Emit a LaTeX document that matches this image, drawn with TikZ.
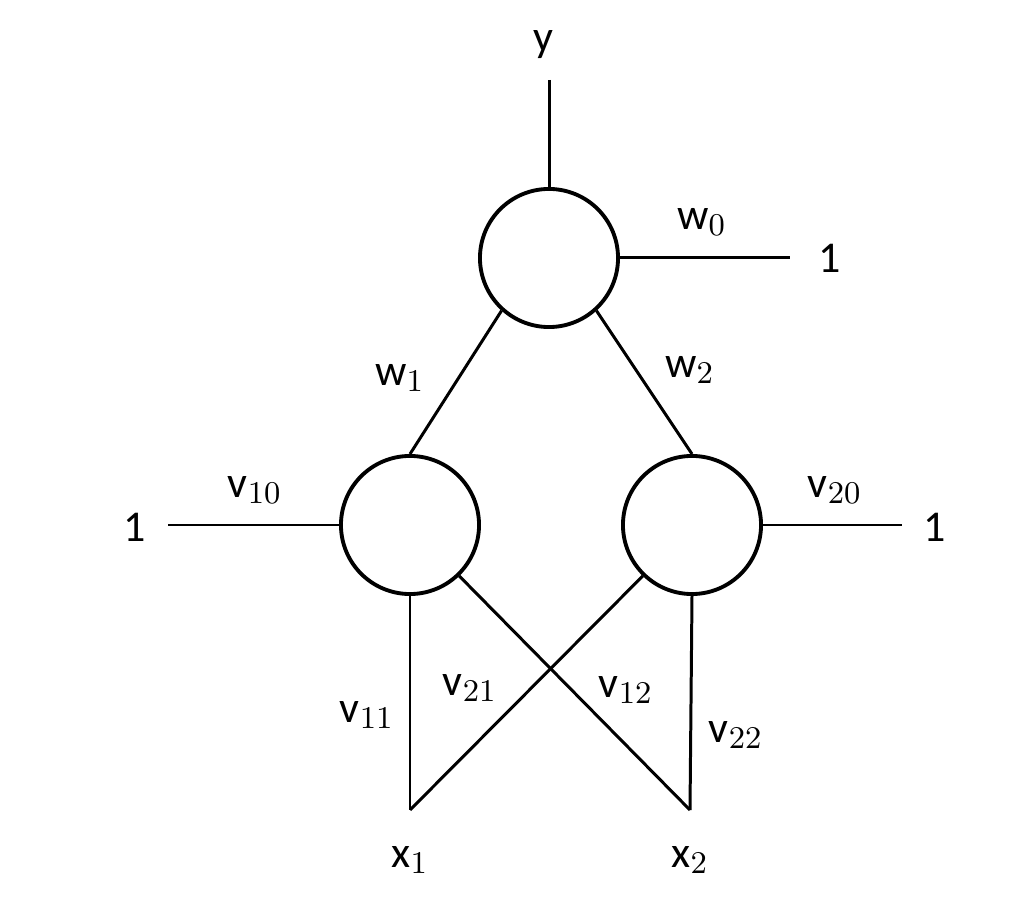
\documentclass[tikz,border=0pt]{standalone}
\usepackage{fontspec}
\setmainfont{Carlito}
\begin{document}
\begin{tikzpicture}[x=0.01cm,y=-0.01cm,line width=0.85pt,
  neuron/.style={circle,draw,line width=1.1pt,minimum size=1.38cm,inner sep=0pt},
  lbl/.style={font=\fontsize{12.5}{14}\selectfont,inner sep=0pt}]
\useasboundingbox (0,0) rectangle (1024,910);
\node[neuron] (top) at (549,258) {};
\node[neuron] (left) at (410,525) {};
\node[neuron] (right) at (692,525) {};
\coordinate (yend) at (549,80);
\coordinate (w0end) at (790,258);
\coordinate (l1) at (168,525);
\coordinate (r1) at (902,525);
\coordinate (x1) at (410,810);
\coordinate (x2) at (690,810);
\node[lbl] (y) at (543,45) {y};
\node[lbl] (one0) at (830,258) {1};
\node[lbl] (oneL) at (135,527) {1};
\node[lbl] (oneR) at (935,527) {1};
\node[lbl] (w0) at (702,222) {w$_0$};
\node[lbl] (w1) at (400,378) {w$_1$};
\node[lbl] (w2) at (690,370) {w$_2$};
\node[lbl] (v10) at (255,490) {v$_{10}$};
\node[lbl] (v20) at (835,490) {v$_{20}$};
\node[lbl] (v11) at (367,715) {v$_{11}$};
\node[lbl] (v21) at (470,688) {v$_{21}$};
\node[lbl] (v12) at (626,690) {v$_{12}$};
\node[lbl] (v22) at (736,735) {v$_{22}$};
\node[lbl] (x1l) at (410,860) {x$_1$};
\node[lbl] (x2l) at (690,860) {x$_2$};
\draw (yend) -- (top.north);
\draw (top.east) -- (w0end);
\draw (top.-132) -- (left.north);
\draw (top.-48) -- (right.north);
\draw (l1) -- (left.west);
\draw (right.east) -- (r1);
\draw (left.south) -- (x1);
\draw (right.-134) -- (x1);
\draw (left.-46) -- (x2);
\draw (right.south) -- (x2);
\end{tikzpicture}
\end{document}
